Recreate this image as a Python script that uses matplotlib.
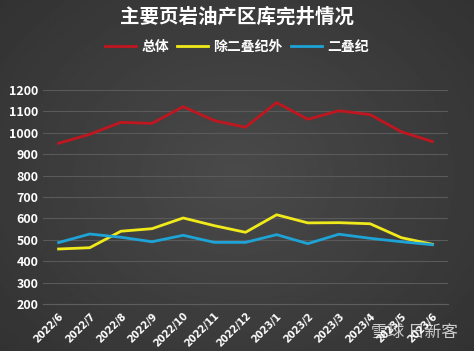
import numpy as np
import matplotlib
matplotlib.use('Agg')
import matplotlib.pyplot as plt

plt.rcParams['font.family'] = ['Noto Sans CJK SC', 'DejaVu Sans']

months = ['2022/6', '2022/7', '2022/8', '2022/9', '2022/10', '2022/11', '2022/12',
          '2023/1', '2023/2', '2023/3', '2023/4', '2023/5', '2023/6']
total = [951, 993, 1049, 1044, 1122, 1057, 1026, 1141, 1063, 1103, 1085, 1005, 959]
ex_permian = [457, 463, 540, 552, 602, 566, 535, 617, 579, 580, 575, 510, 479]
permian = [487, 527, 512, 491, 521, 488, 488, 524, 482, 526, 507, 491, 477]

fig = plt.figure(figsize=(4.74, 3.51), dpi=100)

# radial gray background
bg = fig.add_axes([0, 0, 1, 1], zorder=-10)
yy, xx = np.mgrid[-1:1:200j, -1:1:300j]
r = np.sqrt((xx * 0.9) ** 2 + (yy * 0.8) ** 2)
shade = 0.29 - 0.10 * np.clip(r, 0, 1.3) / 1.3
bg.imshow(shade, cmap='gray', vmin=0, vmax=1, aspect='auto', extent=[0, 1, 0, 1])
bg.axis('off')

ax = fig.add_axes([43 / 474, 1 - 304 / 351, 405 / 474, 214 / 351])
ax.patch.set_alpha(0)
x = np.arange(len(months))
ax.plot(x, total, color='#c0161f', lw=2, label='总体')
ax.plot(x, ex_permian, color='#f0ea1a', lw=2, label='除二叠纪外')
ax.plot(x, permian, color='#1ea3d6', lw=2, label='二叠纪')

ax.set_xlim(-0.5, len(months) - 0.5)
ax.set_ylim(200, 1200)
ax.set_yticks(range(200, 1201, 100))
ax.grid(axis='y', color='#5a5a5a', lw=0.8)
ax.set_axisbelow(True)
for s in ['top', 'right', 'left']:
    ax.spines[s].set_visible(False)
ax.spines['bottom'].set_color('#5e5e5e')
ax.set_xticks(x)
ax.set_xticklabels(months, rotation=45, ha='right', rotation_mode='anchor',
                   fontsize=7, fontweight='bold', color='white', family='DejaVu Sans')
ax.tick_params(axis='x', length=0, pad=5)
ax.tick_params(axis='y', length=0, colors='white', labelsize=9)
for t in ax.get_yticklabels():
    t.set_fontweight('bold')

fig.text(0.5, 1 - 17 / 351, '主要页岩油产区库完井情况', ha='center', va='center',
         color='white', fontsize=14, fontweight='bold')
fig.legend(loc='center', bbox_to_anchor=(0.5, 1 - 47 / 351), ncol=3, frameon=False,
           labelcolor='white', handlelength=2.2, columnspacing=0.6,
           handletextpad=0.4, prop={'weight': 'bold', 'size': 10})

fig.text(0.875, 1 - 332 / 351, '雪球 日新客', ha='center', va='center',
         color='white', alpha=0.75, fontsize=12)

fig.savefig('out.png', dpi=100)
